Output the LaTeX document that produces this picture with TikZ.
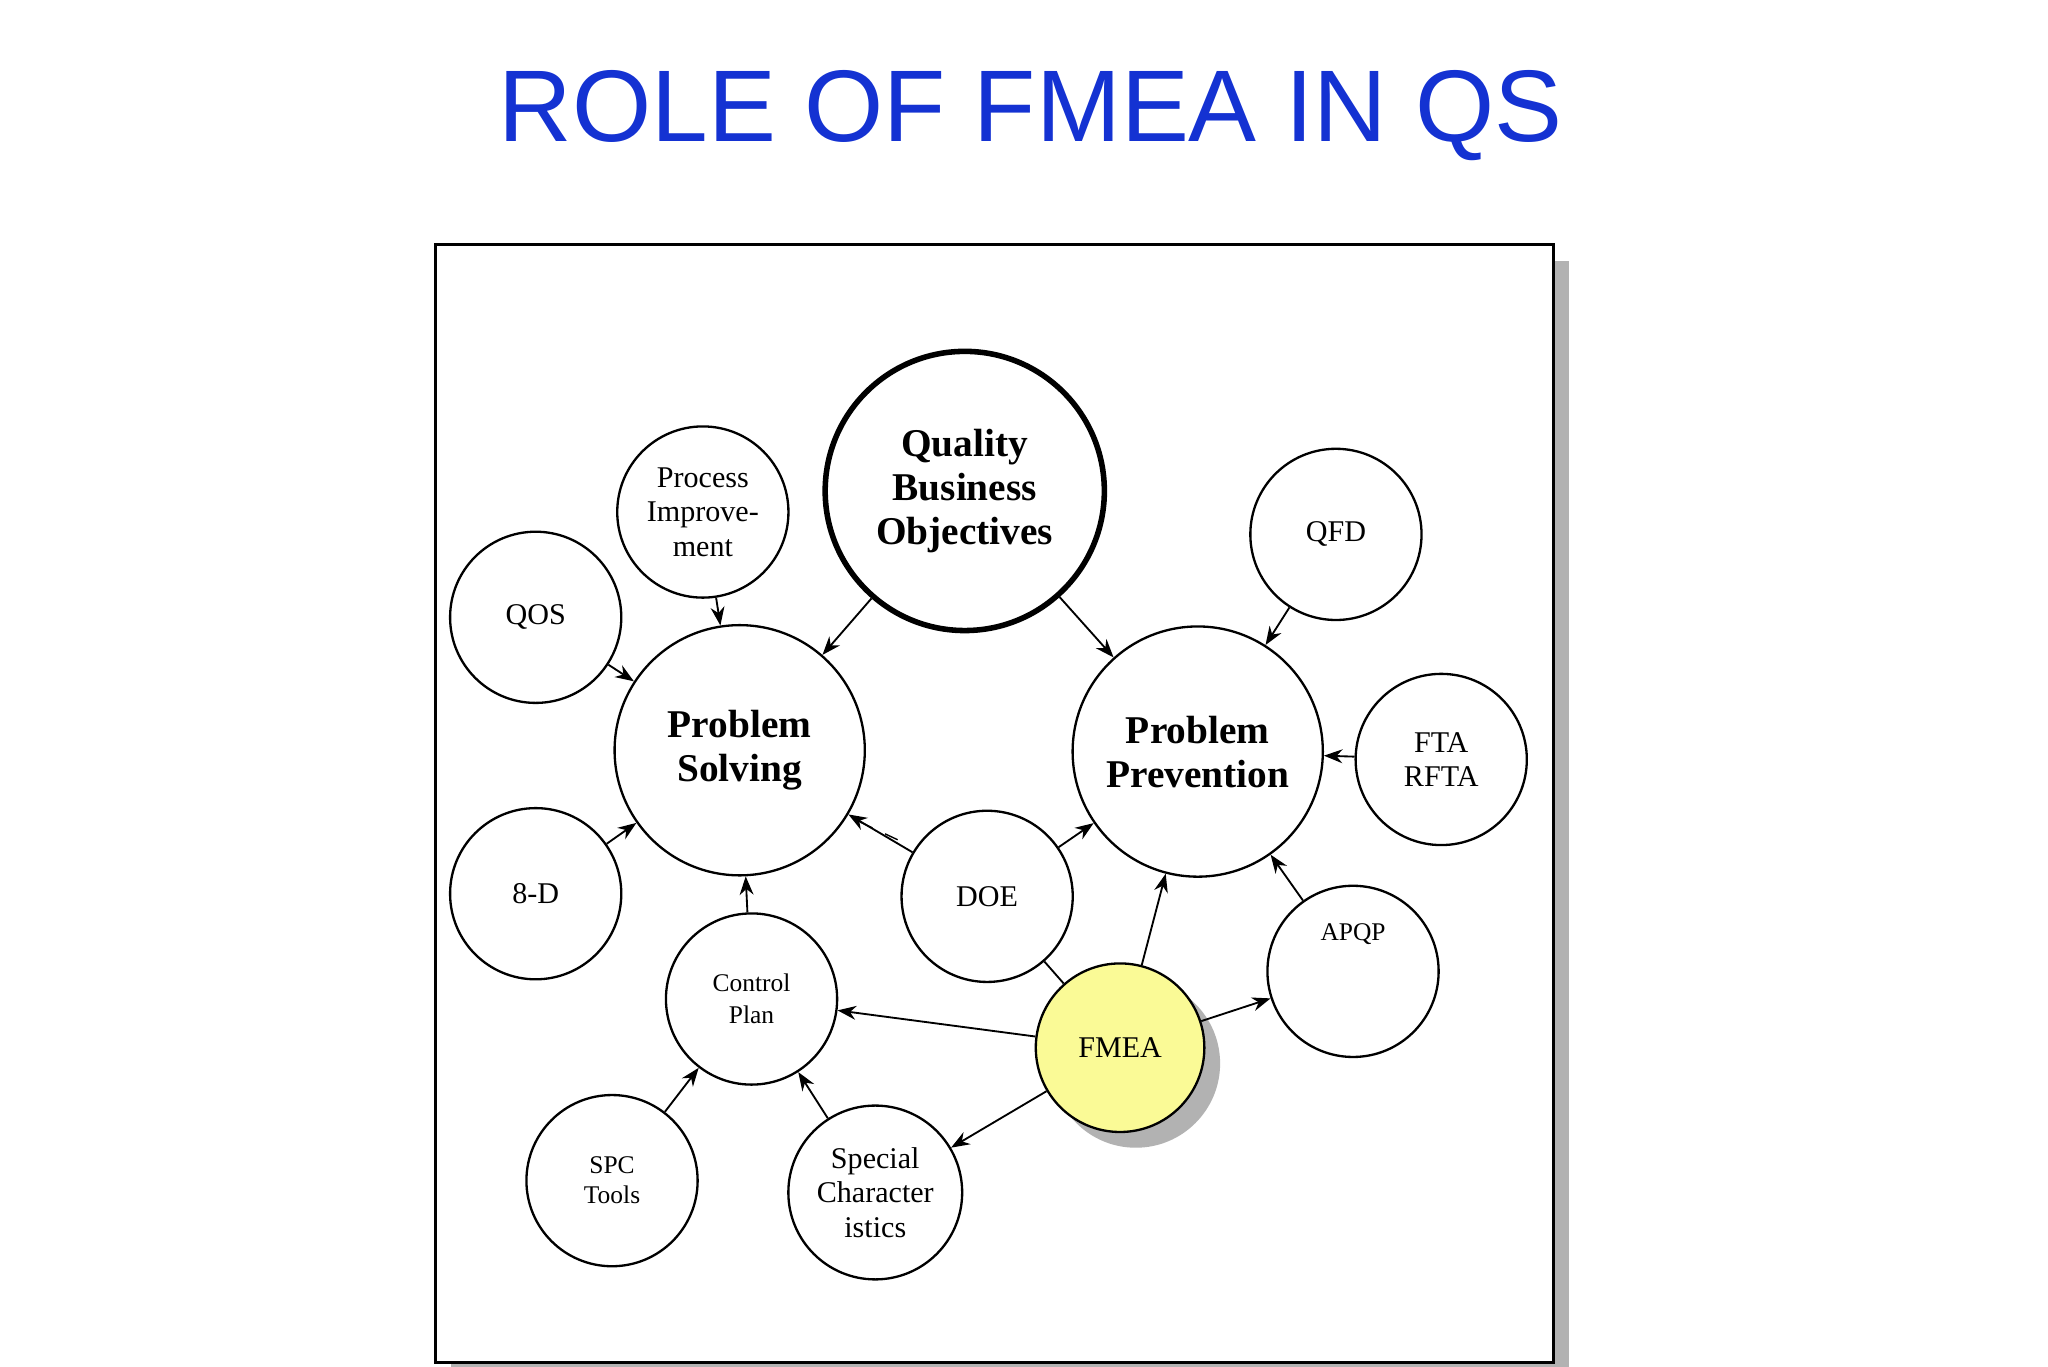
\documentclass[tikz,border=0pt]{standalone}
\usepackage{fontspec}
\setmainfont{Liberation Serif}
\newfontfamily\titlefont{Liberation Sans}
\usetikzlibrary{arrows.meta,shadows,calc}
\definecolor{tblue}{RGB}{20,50,210}
\definecolor{fmeay}{RGB}{250,250,150}
\tikzset{
 bub/.style={circle,draw,line width=0.5pt,minimum size=#1cm,inner sep=0pt,align=center,font=\fontsize{6.5}{7.5}\selectfont},
 big/.style={font=\fontsize{8.5}{9.5}\selectfont\bfseries},
 arr/.style={-{Stealth[length=4pt,width=3pt]},line width=0.4pt},
}
\begin{document}
\begin{tikzpicture}[x=0.01cm,y=-0.01cm]
\useasboundingbox (0,0) rectangle (1556,1038);
\node[font=\titlefont\fontsize{22}{26}\selectfont,text=tblue] (title) at (783,88) {ROLE OF FMEA IN QS};
\fill[gray!60] (343,198) rectangle (1192,1047);
\draw[fill=white,line width=0.6pt] (331,186) rectangle (1180,1035);
\node[bub=2.12,line width=1.2pt,big] (qbo) at (733,373) {Quality\\Business\\Objectives};
\node[bub=1.30] (pi) at (534,389) {Process\\Improve-\\ment};
\node[bub=1.30] (qos) at (407,469) {QOS};
\node[bub=1.90,big] (ps) at (562,570) {Problem\\Solving};
\node[bub=1.30] (8d) at (407,679) {8-D};
\node[bub=1.30,font=\fontsize{5.5}{7}\selectfont] (cp) at (571,759) {Control\\Plan};
\node[bub=1.30,font=\fontsize{5.5}{6.5}\selectfont] (spc) at (465,897) {SPC\\Tools};
\node[bub=1.32] (sc) at (665,906) {Special\\Character\\istics};
\node[bub=1.30] (doe) at (750,681) {DOE};
\fill[gray!60] (863,808) circle[radius=64];
\node[bub=1.28,fill=fmeay] (fmea) at (851,796) {FMEA};
\node[bub=1.90,big] (pp) at (910,571) {Problem\\Prevention};
\node[bub=1.30] (qfd) at (1015,406) {QFD};
\node[bub=1.30] (fta) at (1095,577) {FTA\\RFTA};
\node[bub=1.30,font=\fontsize{5.5}{7}\selectfont] (apqp) at (1028,738) {APQP\\[10pt]};
\draw[arr] (qbo) -- (ps);
\draw[arr] (qbo) -- (pp);
\draw[arr] (pi) -- (ps);
\draw[arr] (qos) -- (ps);
\draw[arr] (8d) -- (ps);
\draw[arr] (cp) -- (ps);
\draw[arr] (doe) -- (ps);
\coordinate (dd) at (682,638);
\draw[dashed,line width=0.3pt] (dd) -- ++(-34,-16);
\draw[arr] (doe) -- (pp);
\draw (doe) -- (fmea);
\draw[arr] (qfd) -- (pp);
\draw[arr] (fta) -- (pp);
\draw[arr] (apqp) -- (pp);
\draw[arr] (fmea) -- (pp);
\draw[arr] (fmea) -- (cp);
\draw[arr] (fmea) -- (sc);
\draw[arr] (fmea) -- (apqp);
\draw[arr] (spc) -- (cp);
\draw[arr] (sc) -- (cp);
\end{tikzpicture}
\end{document}
